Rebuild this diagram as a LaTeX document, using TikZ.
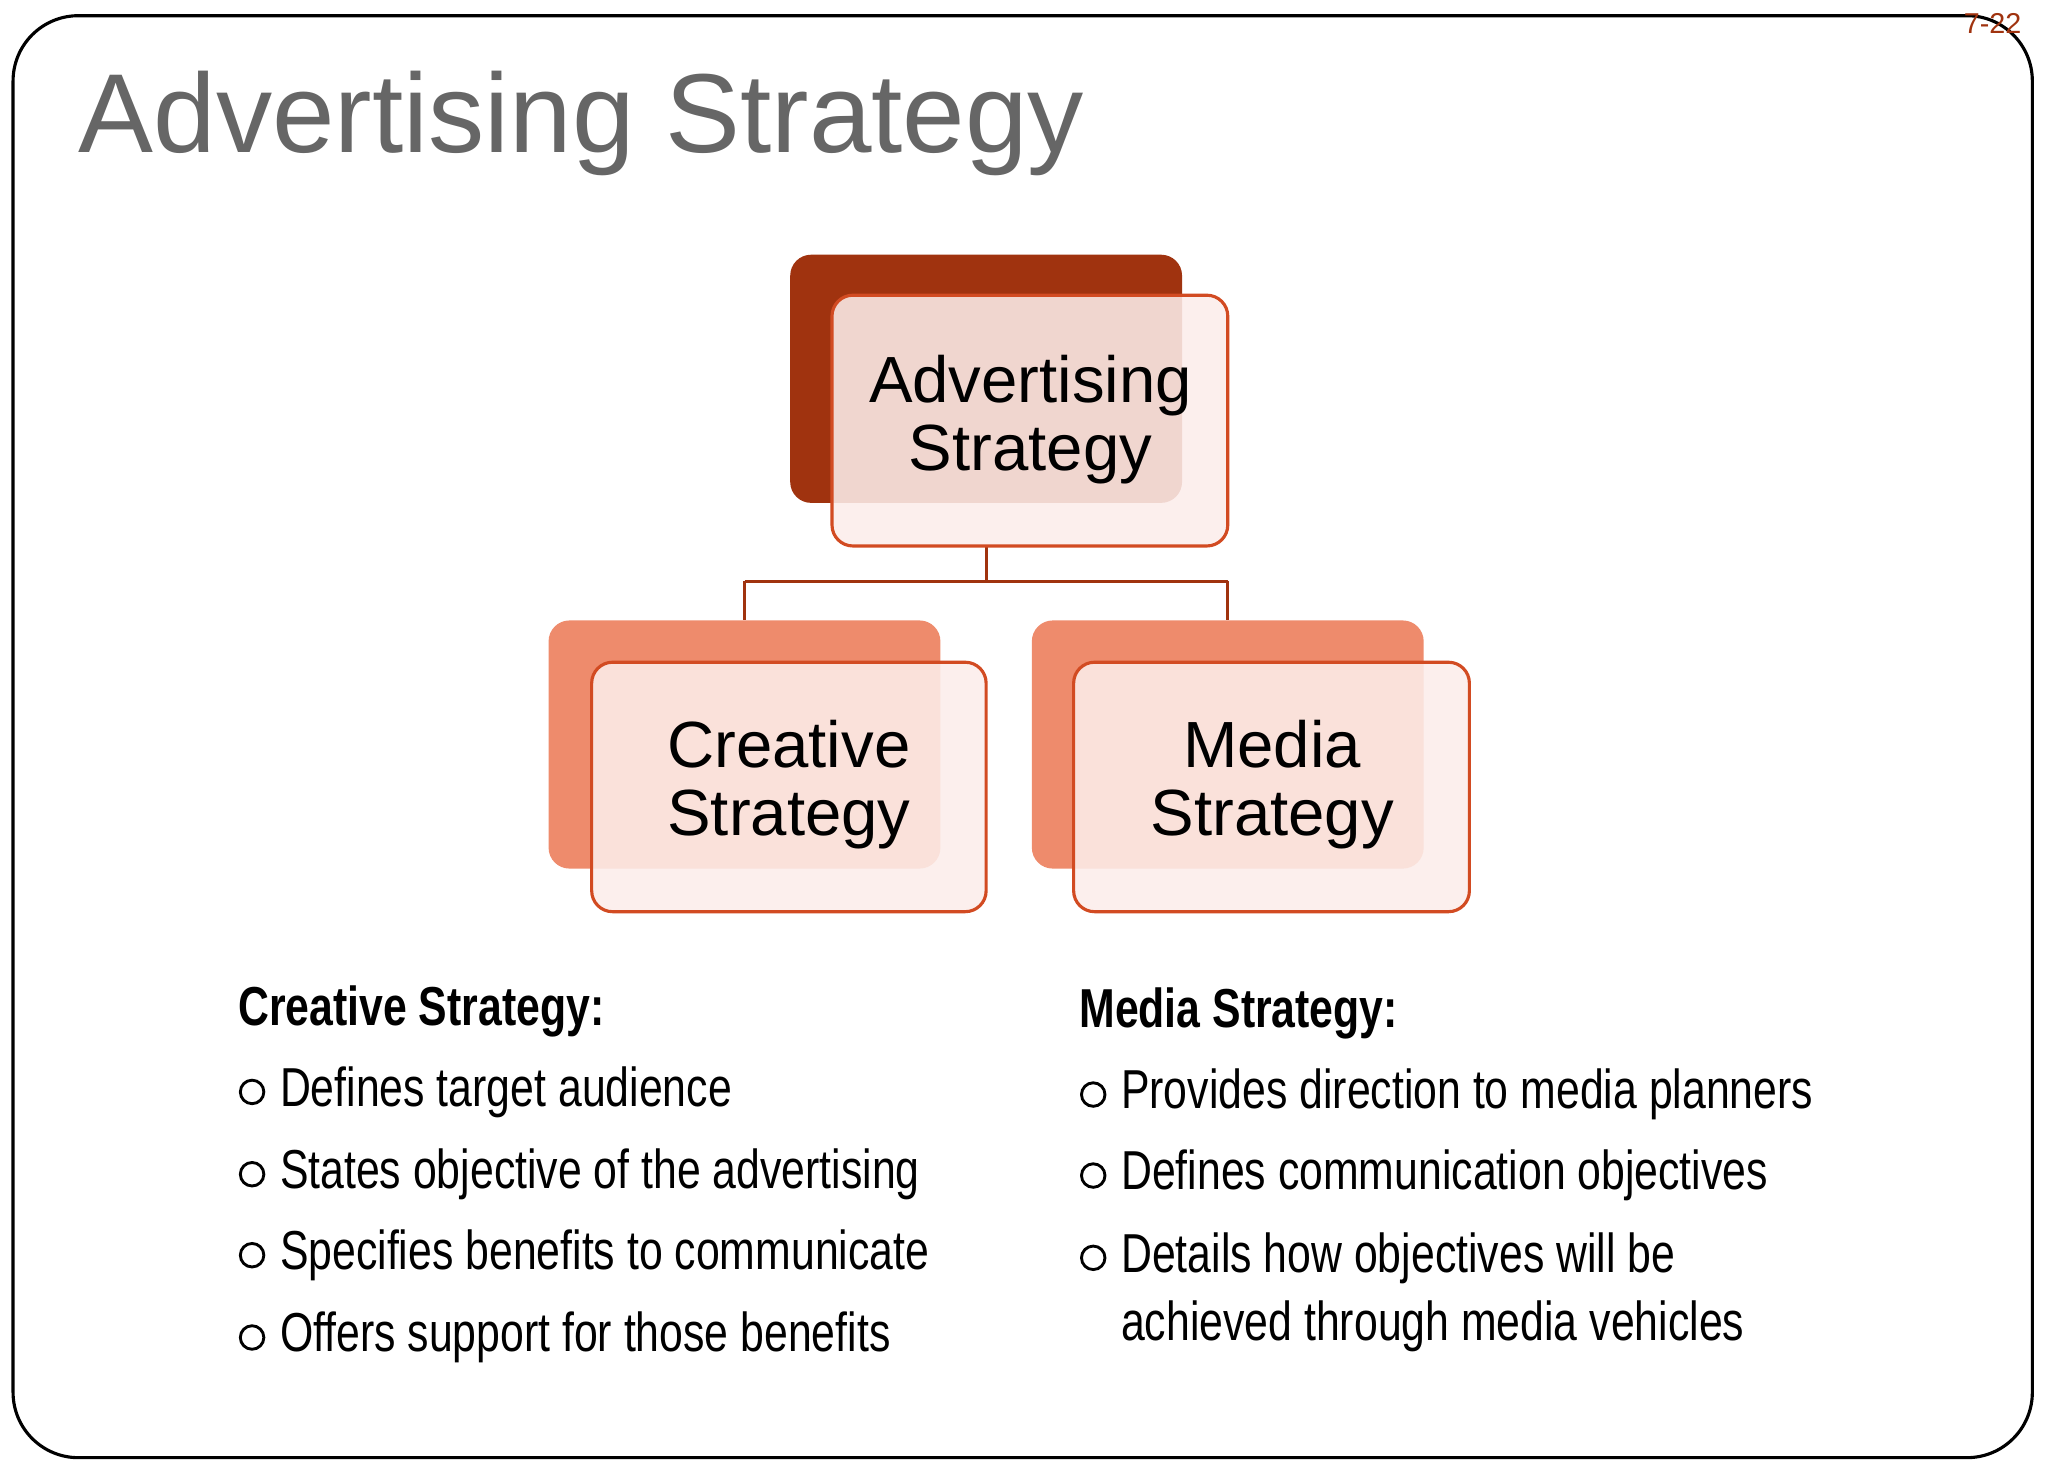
\documentclass[tikz,border=0pt]{standalone}
\usepackage{fontspec}
\setmainfont{Liberation Sans}
\newfontfamily\narrow[FakeStretch=0.78]{Liberation Sans}
\definecolor{dark}{HTML}{A0330F}
\definecolor{salmon}{HTML}{EE8B6C}
\definecolor{edge}{HTML}{D24B22}
\definecolor{front}{HTML}{FCEDEA}
\definecolor{titlegray}{HTML}{666666}
\begin{document}
\begin{tikzpicture}[x=0.5pt,y=-0.5pt,
  back/.style={rounded corners=8pt},
  frontbox/.style={draw=edge,line width=1.2pt,fill=front,fill opacity=0.88,rounded corners=8pt},
  boxtext/.style={align=center,font=\fontsize{25}{26}\selectfont,text=black},
  item/.style={anchor=base west,font=\narrow\fontsize{21}{25}\selectfont,inner sep=0},
  head/.style={anchor=base west,font=\narrow\bfseries\fontsize{21}{25}\selectfont,inner sep=0},
  bul/.style={circle,draw=black,line width=1.1pt,minimum size=9pt,inner sep=0},
  conn/.style={draw=dark,line width=1.2pt}]
\useasboundingbox (0,0) rectangle (1568,1132);
\draw[line width=1.2pt,rounded corners=25pt] (10,12) rectangle (1556,1116);
\node[anchor=base west,inner sep=0,text=titlegray,font=\fontsize{43}{46}\selectfont] (title) at (60,117) {Advertising Strategy};
\node[anchor=north east,inner sep=0,text=dark,font=\fontsize{11}{12}\selectfont] (pg) at (1548,10) {7-22};
% connectors
\coordinate (j) at (755,445);
\coordinate (jl) at (570,445);
\coordinate (jr) at (940,445);
\draw[conn] (755,418) -- (j);
\draw[conn] (jl) -- (jr);
\draw[conn] (jl) -- (570,475);
\draw[conn] (jr) -- (940,475);
% top
\fill[dark,back] (605,195) rectangle (905,385);
\draw[frontbox] (637,226) rectangle (940,418);
\node[boxtext] (top) at (789,321) {Advertising\\Strategy};
% left
\fill[salmon,back] (420,475) rectangle (720,665);
\draw[frontbox] (453,507) rectangle (755,698);
\node[boxtext] (cre) at (604,601) {Creative\\Strategy};
% right
\fill[salmon,back] (790,475) rectangle (1090,665);
\draw[frontbox] (822,507) rectangle (1125,698);
\node[boxtext] (med) at (974,601) {Media\\Strategy};
% lists
\node[head] (h1) at (182,785) {Creative Strategy:};
\foreach \t/\y [count=\i] in {Defines target audience/847,States objective of the advertising/910,Specifies benefits to communicate/972,Offers support for those benefits/1035}{
  \node[bul] (b1\i) at (193,\y-11) {};
  \node[item] (l1\i) at (214,\y) {\t};
}
\node[head] (h2) at (826,787) {Media Strategy:};
\foreach \t/\y [count=\i] in {Provides direction to media planners/849,Defines communication objectives/911,Details how objectives will be/974}{
  \node[bul] (b2\i) at (837,\y-11) {};
  \node[item] (l2\i) at (858,\y) {\t};
}
\node[item] (l24) at (858,1026) {achieved through media vehicles};
\end{tikzpicture}
\end{document}
